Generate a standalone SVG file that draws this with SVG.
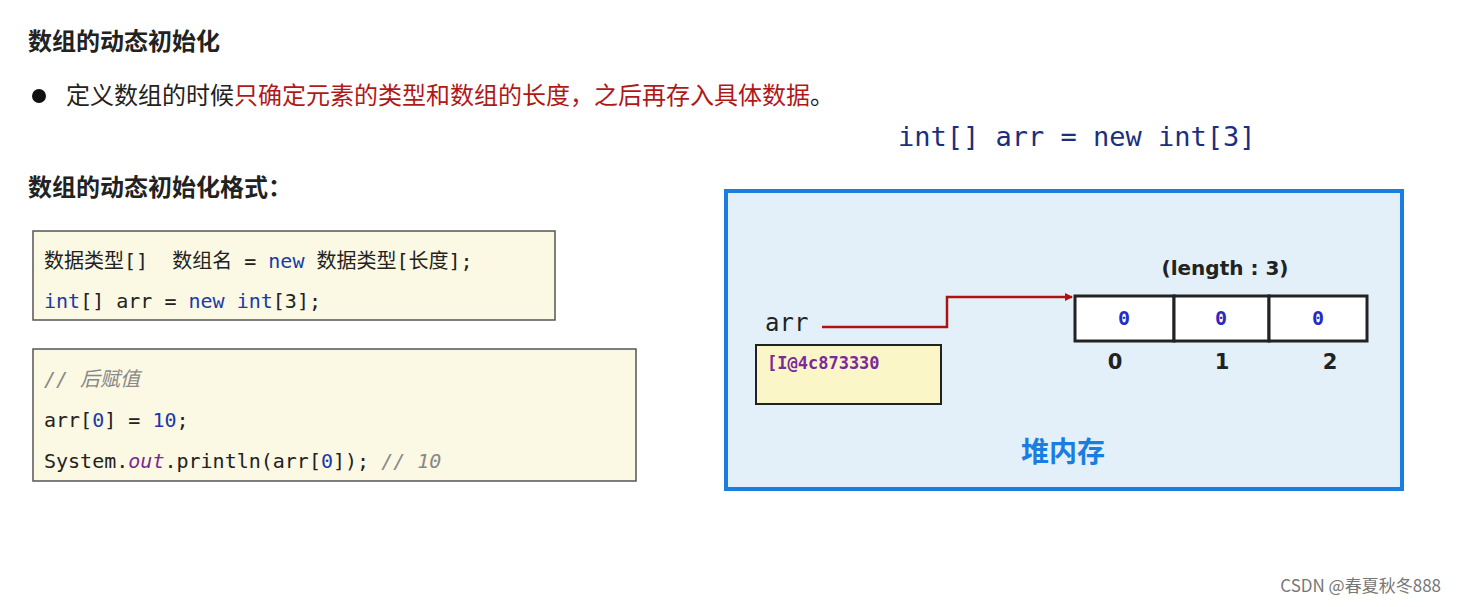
<svg xmlns="http://www.w3.org/2000/svg" width="1457" height="607" viewBox="0 0 1457 607">
<style>
.h{font-family:"Noto Sans CJK SC",sans-serif;font-weight:bold;fill:#222}
.t{font-family:"Noto Sans CJK SC",sans-serif;fill:#222}
.m{font-family:"DejaVu Sans Mono","Noto Sans CJK SC",monospace;font-size:20px;fill:#222;white-space:pre}
.kw{fill:#1a3aa8}
.num{fill:#1a3aa8}
.cm{fill:#888;font-style:italic}
.code{fill:#fbf8e4;stroke:#555;stroke-width:1.5}
.cell{fill:#fff;stroke:#222;stroke-width:3}
.idx{font-family:"DejaVu Sans","Noto Sans CJK SC",sans-serif;font-weight:bold;font-size:21px;fill:#222}
.z{font-family:"DejaVu Sans Mono",monospace;font-size:20px;fill:#2a2ac0;font-weight:bold}
</style>
<defs><marker id="ar" markerWidth="8" markerHeight="8" refX="7" refY="4" orient="auto" markerUnits="userSpaceOnUse"><path d="M0,0 L8,4 L0,8 z" fill="#b01010"/></marker></defs>
<rect width="1457" height="607" fill="#fff"/>
<text class="h" x="28" y="50" font-size="24">数组的动态初始化</text>
<circle cx="39" cy="96" r="7" fill="#111"/>
<text class="t" x="66" y="104" font-size="24">定义数组的时候<tspan fill="#b01818">只确定元素的类型和数组的长度，之后再存入具体数据</tspan>。</text>
<text x="898" y="146" font-family="DejaVu Sans Mono,monospace" font-size="27" fill="#1a2f80">int[] arr = new int[3]</text>
<text class="h" x="28" y="196" font-size="24">数组的动态初始化格式：</text>
<g id="code1">
<rect class="code" x="33" y="231" width="522" height="89"/>
<text class="m" x="44" y="268">数据类型[]  数组名 = <tspan class="kw">new</tspan> 数据类型[长度];</text>
<text class="m" x="44" y="308"><tspan class="kw">int</tspan>[] arr = <tspan class="kw">new</tspan> <tspan class="kw">int</tspan>[3];</text>
</g>
<g id="code2">
<rect class="code" x="33" y="349" width="603" height="132"/>
<text class="m cm" x="44" y="386">// 后赋值</text>
<text class="m" x="44" y="427">arr[<tspan class="num">0</tspan>] = <tspan class="num">10</tspan>;</text>
<text class="m" x="44" y="468">System.<tspan fill="#7a2a8a" font-style="italic">out</tspan>.println(arr[<tspan class="num">0</tspan>]); <tspan class="cm">// 10</tspan></text>
</g>
<g id="heap">
<rect x="726" y="191" width="676" height="298" fill="#e3f0fa" stroke="#1a7ee0" stroke-width="4"/>
<text x="1063" y="462" text-anchor="middle" font-family="Noto Sans CJK SC,sans-serif" font-weight="bold" font-size="28" fill="#1a7ee0">堆内存</text>
</g>
<g id="arrVar">
<text x="765" y="331" font-family="DejaVu Sans Mono,monospace" font-size="24" fill="#222">arr</text>
<rect x="756" y="345" width="185" height="59" fill="#fbf6c8" stroke="#222" stroke-width="2"/>
<text x="767" y="369" font-family="DejaVu Sans Mono,monospace" font-size="17" font-weight="bold" fill="#7a2a9a">[I@4c873330</text>
</g>
<g id="array">
<text x="1225" y="275" text-anchor="middle" font-family="DejaVu Sans,sans-serif" font-weight="bold" font-size="20" fill="#222">(length : 3)</text>
<rect class="cell" x="1075" y="296" width="99" height="45"/>
<rect class="cell" x="1174" y="296" width="95" height="45"/>
<rect class="cell" x="1269" y="296" width="98" height="45"/>
<text class="z" x="1124" y="325" text-anchor="middle">0</text>
<text class="z" x="1221" y="325" text-anchor="middle">0</text>
<text class="z" x="1318" y="325" text-anchor="middle">0</text>
<text class="idx" x="1115" y="369" text-anchor="middle">0</text>
<text class="idx" x="1222" y="369" text-anchor="middle">1</text>
<text class="idx" x="1330" y="369" text-anchor="middle">2</text>
</g>
<g id="connectors">
<path d="M822,327 H947 V297 H1072" fill="none" stroke="#b01010" stroke-width="2.5" marker-end="url(#ar)"/>
</g>
<text x="1441" y="592" text-anchor="end" font-family="Noto Sans CJK SC,sans-serif" font-size="17" fill="#777">CSDN @春夏秋冬888</text>
</svg>
